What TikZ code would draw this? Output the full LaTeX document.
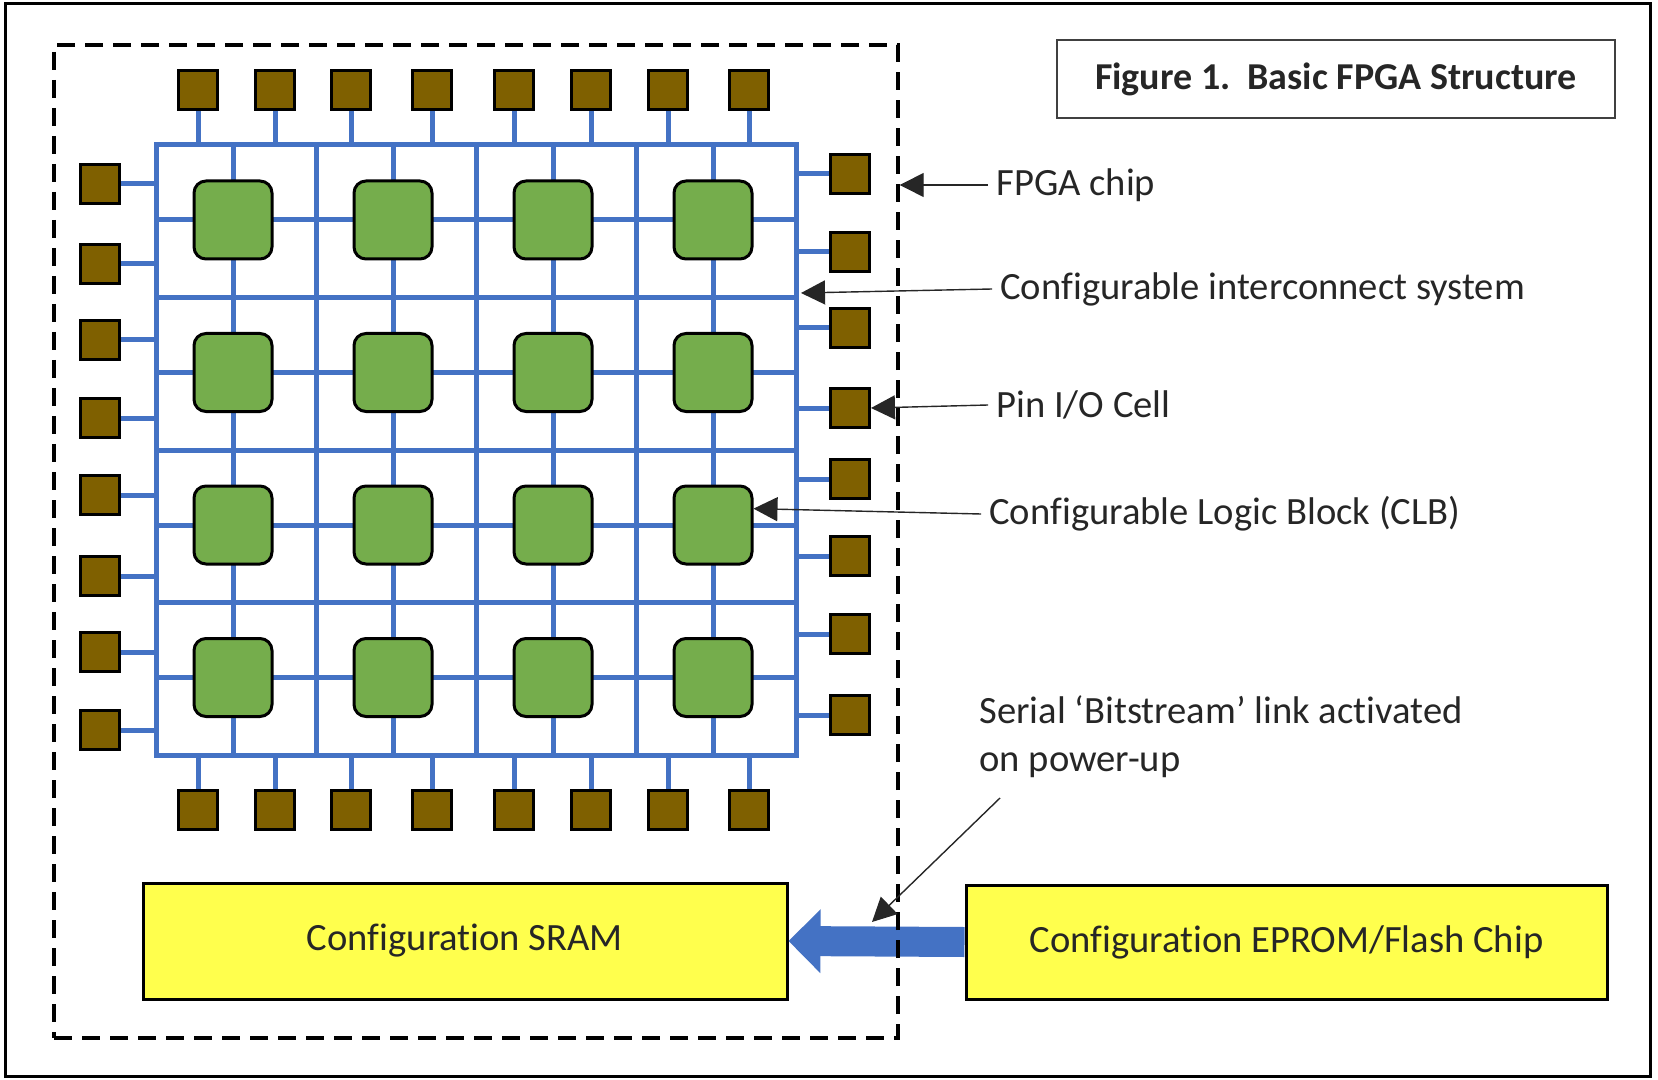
\documentclass[tikz,border=0pt]{standalone}
\usepackage{fontspec}
\setmainfont{Carlito}[Ligatures=NoCommon]
\usetikzlibrary{arrows.meta}
\definecolor{wire}{HTML}{4472C4}
\definecolor{padFill}{HTML}{7F6000}
\definecolor{clbFill}{HTML}{75AD4C}
\definecolor{memFill}{HTML}{FFFF4D}
\definecolor{ink}{HTML}{262626}

\begin{document}
\begin{tikzpicture}[
    x=0.5pt, y=-0.5pt,
    font=\fontsize{19.3}{24}\selectfont,
    iocell/.style = {
      draw=black,
      line width=1.5pt,
      fill=padFill,
      minimum size=19.5pt,
      inner sep=0pt
    },
    clb/.style = {
      draw=black,
      line width=1.5pt,
      fill=clbFill,
      rounded corners=6pt,
      minimum size=39pt,
      inner sep=0pt
    },
    memblk/.style = {
      draw=black,
      line width=1.5pt,
      fill=memFill,
      text=ink,
      inner sep=0pt
    },
    callout/.style = {anchor=west, text=ink, inner sep=4pt},
    pointer/.style = {-{Triangle[length=12pt,width=12pt]}, line width=0.7pt, draw=ink},
    wiring/.style = {draw=wire, line width=2.5pt}
  ]
\useasboundingbox (0,0) rectangle (1658,1080);
\draw[line width=1.5pt] (5,4) rectangle (1650,1076);

% routing fabric
\node[draw=wire, line width=2.5pt, minimum width=320pt, minimum height=305pt, inner sep=0pt] (fabric) at (476,450) {};
\foreach \gx in {233,316,393,476,553,636,713}
  \draw[wiring] (\gx,145) -- (\gx,755);
\foreach \gy in {220,297.5,372.5,450,525,602.5,677.5}
  \draw[wiring] (156,\gy) -- (796,\gy);

% logic blocks
\foreach \i in {1,...,4}
  \foreach \j in {1,...,4}
    \node[clb] (c\i\j) at ({233+160*(\i-1)},{220+152.5*(\j-1)}) {};

% I/O cells
\foreach \px [count=\k] in {198,275,351,432,514,591,668,749} {
  \node[iocell] (tp\k) at (\px,90) {};
  \node[iocell] (bp\k) at (\px,810) {};
  \draw[wiring] (tp\k) -- (tp\k |- fabric.north);
  \draw[wiring] (bp\k) -- (bp\k |- fabric.south);
}
\foreach \py [count=\k] in {184,264,340,418,495,576,652,730} {
  \node[iocell] (lp\k) at (100,\py) {};
  \draw[wiring] (lp\k) -- (lp\k -| fabric.west);
}
\foreach \py [count=\k] in {174,252,328,408,479,556,634,715} {
  \node[iocell] (rp\k) at (850,\py) {};
  \draw[wiring] (rp\k) -- (rp\k -| fabric.east);
}

\node[memblk, minimum width=322pt, minimum height=58pt] (sram) at (465,941) {Configuration SRAM};
\node[memblk, minimum width=320.5pt, minimum height=57pt] (eprom) at (1286.5,942) {Configuration EPROM/Flash Chip};
\draw[draw=wire, line width=15pt, -{Triangle[length=16pt,width=31pt]}] (eprom.west) -- (sram.east);

\node[draw, line width=1.7pt, dash pattern=on 9pt off 5pt, minimum width=422pt, minimum height=496.5pt, inner sep=0pt] (chip) at (476,541.5) {};

\node[draw=black!75, line width=1pt, minimum width=279pt, minimum height=39pt, text=ink, font=\fontsize{19}{21}\selectfont\bfseries] (title) at (1336,79) {Figure 1.\ \ Basic FPGA Structure};

\node[callout] (lblchip) at (988,185) {FPGA chip};
\node[callout] (lblnet) at (992,289) {Configurable interconnect system};
\node[callout] (lblpin) at (988,405) {Pin I/O Cell};
\node[callout] (lblclb) at (981,514) {Configurable Logic Block (CLB)};
\node[callout, align=left] (lblbit) at (971,737) {Serial ‘Bitstream’ link activated\\on power-up};

\coordinate (netpt) at (801,293);
\coordinate (bitfrom) at (1000,798);
\coordinate (bitto) at (872,922);
\draw[pointer] (lblchip.west) -- (lblchip.west -| chip.east);
\draw[pointer] (lblnet.west) -- (netpt);
\draw[pointer] (lblpin.west) -- (rp4.east);
\draw[pointer] (lblclb.west) -- (c43.22);
\draw[pointer] (bitfrom) -- (bitto);
\end{tikzpicture}
\end{document}
